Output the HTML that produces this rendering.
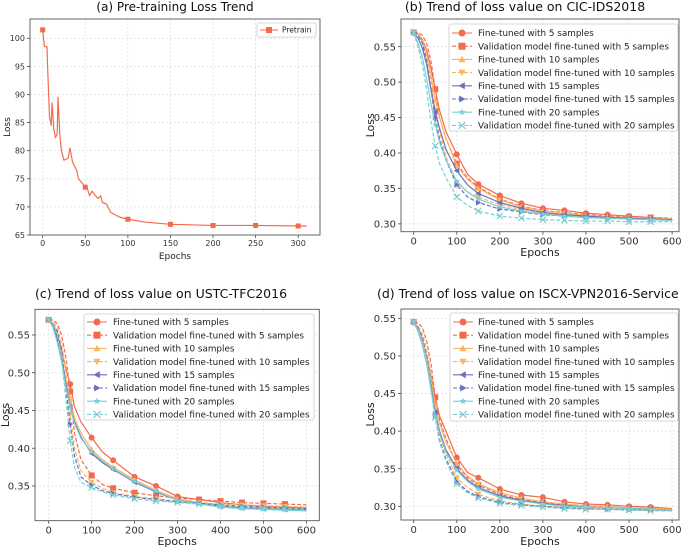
<!DOCTYPE html>
<html><head><meta charset="utf-8">
<style>
html,body{margin:0;padding:0;background:#fff;}
svg{display:block;font-family:"DejaVu Sans","Liberation Sans",sans-serif;}
</style></head>
<body>
<svg id="chart" width="685" height="547" viewBox="0 0 685 547" xmlns="http://www.w3.org/2000/svg"></svg>
<script>
// ---- Data ----
const pretrainEpochs = [0,2,5,6,8,10,11,13,15,17,18,20,22,25,30,32,35,40,42,45,50,52,55,58,62,65,68,70,75,80,90,100,120,150,200,250,300,310];
const pretrainLoss = [101.5,98.5,98.5,94,86,84.5,88.5,84,82.3,83,89.5,83,80,78.3,78.7,80.5,78,76.5,75,74.5,73.5,73.5,72,72.8,72,71.5,72,70.8,70.5,69,68.2,67.8,67.3,66.9,66.7,66.7,66.6,66.6];
const pretrainTicksX = [0,50,100,150,200,250,300];
const pretrainTicksY = [65,70,75,80,85,90,95,100];

const fineEpochs = [0,10,20,30,40,50,60,75,100,125,150,200,250,300,350,400,450,500,550,600];
const seriesNames = ["Fine-tuned with 5 samples","Validation model fine-tuned with 5 samples","Fine-tuned with 10 samples","Validation model fine-tuned with 10 samples","Fine-tuned with 15 samples","Validation model fine-tuned with 15 samples","Fine-tuned with 20 samples","Validation model fine-tuned with 20 samples"];
const fineTicksX = [0,100,200,300,400,500,600];

const b_f5  = [0.570,0.568,0.560,0.545,0.52,0.49,0.46,0.43,0.398,0.37,0.356,0.340,0.329,0.322,0.319,0.315,0.313,0.311,0.309,0.307];
const b_v5  = [0.570,0.570,0.566,0.555,0.53,0.49,0.45,0.42,0.385,0.365,0.352,0.335,0.325,0.319,0.316,0.313,0.311,0.310,0.309,0.308];
const b_f10 = [0.570,0.567,0.556,0.538,0.51,0.475,0.45,0.42,0.382,0.363,0.350,0.334,0.324,0.318,0.315,0.312,0.310,0.309,0.308,0.307];
const b_v10 = [0.570,0.568,0.560,0.54,0.50,0.46,0.43,0.395,0.358,0.345,0.338,0.327,0.320,0.315,0.312,0.310,0.309,0.308,0.307,0.306];
const b_f15 = [0.570,0.562,0.548,0.525,0.49,0.458,0.435,0.405,0.375,0.355,0.343,0.330,0.322,0.316,0.313,0.311,0.309,0.308,0.307,0.306];
const b_v15 = [0.570,0.566,0.555,0.53,0.49,0.45,0.42,0.39,0.355,0.338,0.330,0.321,0.317,0.313,0.311,0.309,0.308,0.307,0.306,0.305];
const b_f20 = [0.570,0.555,0.535,0.505,0.47,0.44,0.415,0.39,0.36,0.345,0.335,0.324,0.318,0.314,0.311,0.309,0.308,0.307,0.306,0.305];
const b_v20 = [0.570,0.550,0.525,0.49,0.445,0.41,0.385,0.365,0.338,0.326,0.318,0.311,0.308,0.306,0.305,0.304,0.304,0.303,0.303,0.303];
const b_ticksY = [0.30,0.35,0.40,0.45,0.50,0.55];

const c_f5  = [0.570,0.565,0.550,0.530,0.505,0.485,0.455,0.435,0.414,0.395,0.384,0.362,0.350,0.336,0.332,0.328,0.325,0.323,0.322,0.321];
const c_v5  = [0.570,0.570,0.565,0.550,0.52,0.475,0.42,0.385,0.364,0.352,0.347,0.341,0.337,0.334,0.332,0.330,0.328,0.327,0.326,0.325];
const c_f10 = [0.570,0.563,0.545,0.520,0.490,0.465,0.44,0.42,0.398,0.385,0.375,0.358,0.344,0.333,0.328,0.324,0.322,0.321,0.320,0.319];
const c_v10 = [0.570,0.568,0.560,0.540,0.50,0.445,0.40,0.37,0.355,0.347,0.341,0.336,0.333,0.330,0.328,0.326,0.325,0.324,0.323,0.322];
const c_f15 = [0.570,0.562,0.545,0.518,0.485,0.455,0.435,0.415,0.393,0.381,0.372,0.355,0.342,0.331,0.327,0.323,0.321,0.320,0.319,0.318];
const c_v15 = [0.570,0.565,0.555,0.530,0.48,0.432,0.39,0.362,0.351,0.344,0.340,0.335,0.332,0.329,0.327,0.325,0.323,0.322,0.321,0.320];
const c_f20 = [0.570,0.560,0.540,0.515,0.480,0.455,0.433,0.413,0.395,0.383,0.373,0.356,0.343,0.331,0.326,0.322,0.320,0.319,0.318,0.317];
const c_v20 = [0.570,0.565,0.550,0.52,0.465,0.41,0.375,0.355,0.348,0.342,0.338,0.333,0.330,0.328,0.326,0.324,0.322,0.321,0.320,0.319];
const c_ticksY = [0.35,0.40,0.45,0.50,0.55];

const d_f5  = [0.545,0.538,0.522,0.50,0.475,0.445,0.42,0.40,0.365,0.345,0.338,0.323,0.315,0.312,0.306,0.303,0.302,0.300,0.299,0.297];
const d_v5  = [0.545,0.544,0.538,0.52,0.49,0.445,0.415,0.39,0.355,0.338,0.328,0.316,0.309,0.305,0.302,0.300,0.299,0.298,0.297,0.296];
const d_f10 = [0.545,0.535,0.52,0.50,0.47,0.435,0.41,0.385,0.357,0.340,0.330,0.318,0.311,0.306,0.303,0.301,0.300,0.298,0.297,0.296];
const d_v10 = [0.545,0.540,0.53,0.51,0.475,0.43,0.395,0.37,0.338,0.325,0.316,0.307,0.303,0.300,0.298,0.297,0.296,0.296,0.295,0.295];
const d_f15 = [0.545,0.533,0.515,0.49,0.46,0.425,0.40,0.375,0.35,0.335,0.325,0.314,0.308,0.304,0.301,0.299,0.298,0.297,0.296,0.295];
const d_v15 = [0.545,0.538,0.525,0.50,0.465,0.42,0.388,0.363,0.333,0.320,0.313,0.305,0.302,0.300,0.298,0.297,0.296,0.295,0.295,0.294];
const d_f20 = [0.545,0.533,0.515,0.49,0.455,0.42,0.397,0.372,0.348,0.333,0.323,0.312,0.307,0.303,0.300,0.299,0.298,0.297,0.296,0.295];
const d_v20 = [0.545,0.536,0.52,0.495,0.46,0.418,0.385,0.36,0.33,0.318,0.311,0.304,0.301,0.299,0.297,0.296,0.296,0.295,0.294,0.294];
const d_ticksY = [0.30,0.35,0.40,0.45,0.50,0.55];

const COLORS = ["#f26b4e","#f26b4e","#fbb461","#fbb461","#6a6fbf","#6a6fbf","#79d0d3","#79d0d3"];
const MARKERS = ["circle","square","tri-up","tri-down","tri-left","tri-right","star","x"];

const NS = "http://www.w3.org/2000/svg";
const svg = document.getElementById("chart");
function mk(tag, attrs, parent){
  const e = document.createElementNS(NS, tag);
  for (const k in attrs) e.setAttribute(k, attrs[k]);
  (parent||svg).appendChild(e);
  return e;
}

function marker(g, type, x, y, s, color){
  let e;
  const r = s/2;
  if (type==="circle"){ e = mk("circle",{cx:x,cy:y,r:r,fill:color},g); }
  else if (type==="square"){ e = mk("rect",{x:x-r,y:y-r,width:s,height:s,fill:color},g); }
  else if (type.startsWith("tri")){
    let pts;
    if (type==="tri-up") pts=[[0,-r],[r,r*0.8],[-r,r*0.8]];
    if (type==="tri-down") pts=[[0,r],[r,-r*0.8],[-r,-r*0.8]];
    if (type==="tri-left") pts=[[-r,0],[r*0.8,-r],[r*0.8,r]];
    if (type==="tri-right") pts=[[r,0],[-r*0.8,-r],[-r*0.8,r]];
    e = mk("polygon",{points:pts.map(p=>(x+p[0])+","+(y+p[1])).join(" "),fill:color},g);
  }
  else if (type==="star"){
    const pts=[];
    for(let i=0;i<10;i++){const a=-Math.PI/2+i*Math.PI/5;const rr=i%2?r*0.45:r*1.05;pts.push((x+rr*Math.cos(a))+","+(y+rr*Math.sin(a)));}
    e = mk("polygon",{points:pts.join(" "),fill:color},g);
  }
  else if (type==="x"){
    e = mk("path",{d:`M${x-r},${y-r}L${x+r},${y+r}M${x-r},${y+r}L${x+r},${y-r}`,stroke:color,"stroke-width":1.2,fill:"none"},g);
  }
  
  
  return e;
}

function panel(opt){
  const g = mk("g",{});
  
  
  const L=opt.box[0], T=opt.box[1], R=opt.box[2], B=opt.box[3];
  const sx = v => L + (v-opt.xr[0])/(opt.xr[1]-opt.xr[0])*(R-L);
  const sy = v => B - (v-opt.yr[0])/(opt.yr[1]-opt.yr[0])*(B-T);
  opt.ticksX.forEach(t=>{
    const gl = mk("line",{x1:sx(t),x2:sx(t),y1:T,y2:B,stroke:"#dcdcdc","stroke-width":0.7,"stroke-dasharray":"2,2"},g);
    
    
    const tk = mk("line",{x1:sx(t),x2:sx(t),y1:B,y2:B+3,stroke:"#444","stroke-width":0.8},g);
    
    
    const tl = mk("text",{x:sx(t),y:B+3+opt.tfs,"font-size":opt.tfs,"text-anchor":"middle",fill:"#333"},g);
    tl.textContent = t;
    
    
  });
  opt.ticksY.forEach(t=>{
    const gl = mk("line",{x1:L,x2:R,y1:sy(t),y2:sy(t),stroke:"#dcdcdc","stroke-width":0.7,"stroke-dasharray":"2,2"},g);
    
    
    const tk = mk("line",{x1:L-3,x2:L,y1:sy(t),y2:sy(t),stroke:"#444","stroke-width":0.8},g);
    
    
    const tl = mk("text",{x:L-5,y:sy(t)+opt.tfs*0.36,"font-size":opt.tfs,"text-anchor":"end",fill:"#333"},g);
    tl.textContent = opt.yfmt(t);
    
    
  });
  opt.series.forEach((s,i)=>{
    const sg = mk("g",{},g);
    
    
    const d = s.x.map((xv,j)=>(j?"L":"M")+sx(xv).toFixed(2)+","+sy(s.y[j]).toFixed(2)).join("");
    const p = mk("path",{d:d,fill:"none",stroke:s.color,"stroke-width":1.2,"stroke-dasharray":s.dash?"4,2":"none","stroke-linejoin":"round"},sg);
    
    
    s.x.forEach((xv,j)=>{ if (xv%50===0 && xv<=opt.markMax) marker(sg,s.marker,sx(xv),sy(s.y[j]),opt.ms,s.color); });
  });
  const fr = mk("rect",{x:L,y:T,width:R-L,height:B-T,fill:"none",stroke:"#555","stroke-width":0.9},g);
  
  
  const ti = mk("text",{x:opt.title[1],y:opt.title[2],"font-size":opt.title[3],"text-anchor":opt.title[4],fill:"#111"},g);
  ti.textContent = opt.title[0];
  
  
  const xl = mk("text",{x:(L+R)/2,y:opt.xlabY,"font-size":opt.lfs,"text-anchor":"middle",fill:"#222"},g);
  xl.textContent = "Epochs";
  
  
  const yl = mk("text",{x:0,y:0,"font-size":opt.lfs,"text-anchor":"middle",fill:"#222",transform:`translate(${opt.ylabX},${(T+B)/2}) rotate(-90)`},g);
  yl.textContent = "Loss";
  
  
  const lg = opt.legend;
  const lgg = mk("g",{},g);
  
  
  const lb = mk("rect",{x:lg.x,y:lg.y,width:lg.w,height:lg.h,rx:2,fill:"#fff","fill-opacity":0.85,stroke:"#ccc","stroke-width":0.8},lgg);
  
  
  opt.series.forEach((s,i)=>{
    const cy = lg.row0 + i*lg.dy;
    const eg = mk("g",{},lgg);
    
    
    mk("line",{x1:lg.x+3,x2:lg.x+3+lg.lw,y1:cy,y2:cy,stroke:s.color,"stroke-width":1.1,"stroke-dasharray":s.dash?"4,2":"none"},eg);
    marker(eg,s.marker,lg.x+3+lg.lw/2,cy,opt.ms+1,s.color);
    const t = mk("text",{x:lg.tx,y:cy+lg.fs*0.36,"font-size":lg.fs,fill:"#222"},eg);
    t.textContent = s.label;
  });
}

function fineSeries(arrs){
  return arrs.map((a,i)=>({x:fineEpochs,y:a,color:COLORS[i],marker:MARKERS[i],dash:i%2===1,label:seriesNames[i]}));
}

panel({name:"panel-a-pretrain",box:[30,19,320,235],xr:[-14.9,325.6],yr:[65,103.43],
  ticksX:pretrainTicksX,ticksY:pretrainTicksY,tfs:8,lfs:9,ms:5,markMax:300,yfmt:v=>v,
  series:[{x:pretrainEpochs,y:pretrainLoss,color:"#f26b4e",marker:"square",dash:false,label:"Pretrain"}],
  title:["(a) Pre-training Loss Trend",175,11,12,"middle"],xlabY:259,ylabX:10,
  legend:{x:257,y:23,w:59,h:14,row0:30,dy:13,lw:18,tx:282,fs:7.5}});
panel({name:"panel-b-cic-ids2018",box:[401,19,679,231.7],xr:[-29.5,616],yr:[0.289,0.589],
  ticksX:fineTicksX,ticksY:b_ticksY,tfs:10,lfs:11,ms:6,markMax:550,yfmt:v=>v.toFixed(2),
  series:fineSeries([b_f5,b_v5,b_f10,b_v10,b_f15,b_v15,b_f20,b_v20]),
  title:["(b) Trend of loss value on CIC-IDS2018",525,11,12.5,"middle"],xlabY:256,ylabX:374,
  legend:{x:449,y:24,w:229,h:107,row0:33,dy:13.2,lw:20,tx:478,fs:8.8}});
panel({name:"panel-c-ustc-tfc2016",box:[35,309.3,319.3,520.7],xr:[-31.9,630],yr:[0.304,0.584],
  ticksX:fineTicksX,ticksY:c_ticksY,tfs:10,lfs:11,ms:6,markMax:550,yfmt:v=>v.toFixed(2),
  series:fineSeries([c_f5,c_v5,c_f10,c_v10,c_f15,c_v15,c_f20,c_v20]),
  title:["(c) Trend of loss value on USTC-TFC2016",35,298,12.5,"start"],xlabY:545,ylabX:9,
  legend:{x:84,y:314,w:230,h:106,row0:322,dy:13.2,lw:20,tx:113,fs:8.8}});
panel({name:"panel-d-iscx-vpn2016",box:[401,309,679,520],xr:[-29.5,616],yr:[0.2818,0.5624],
  ticksX:fineTicksX,ticksY:d_ticksY,tfs:10,lfs:11,ms:6,markMax:550,yfmt:v=>v.toFixed(2),
  series:fineSeries([d_f5,d_v5,d_f10,d_v10,d_f15,d_v15,d_f20,d_v20]),
  title:["(d) Trend of loss value on ISCX-VPN2016-Service",377,298,12.5,"start"],xlabY:545,ylabX:374,
  legend:{x:450,y:313,w:228,h:108,row0:322,dy:13.2,lw:20,tx:478,fs:8.8}});
</script>
</body></html>
